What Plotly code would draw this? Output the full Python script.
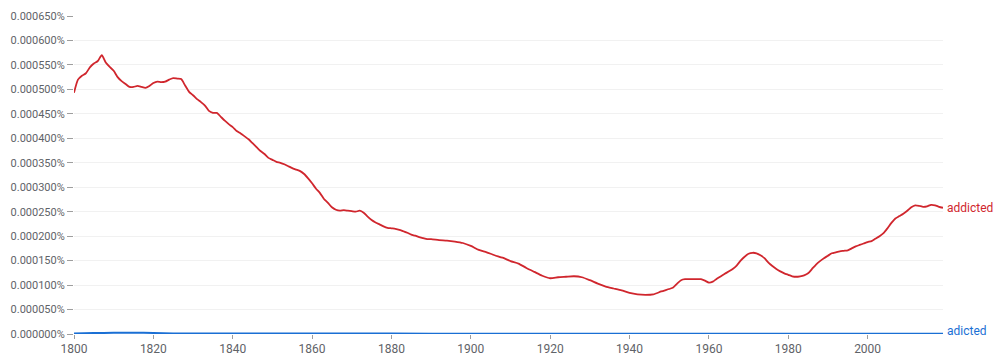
import plotly.graph_objects as go

years_addicted = [
    1800, 1801, 1802, 1803, 1804, 1805, 1806, 1807, 1808, 1809,
    1810, 1811, 1812, 1813, 1814, 1815, 1816, 1817, 1818, 1819,
    1820, 1821, 1822, 1823, 1824, 1825, 1826, 1827, 1828, 1829,
    1830, 1831, 1832, 1833, 1834, 1835, 1836, 1837, 1838, 1839,
    1840, 1841, 1842, 1843, 1844, 1845, 1846, 1847, 1848, 1849,
    1850, 1851, 1852, 1853, 1854, 1855, 1856, 1857, 1858, 1859,
    1860, 1861, 1862, 1863, 1864, 1865, 1866, 1867, 1868, 1869,
    1870, 1871, 1872, 1873, 1874, 1875, 1876, 1877, 1878, 1879,
    1880, 1881, 1882, 1883, 1884, 1885, 1886, 1887, 1888, 1889,
    1890, 1892, 1894, 1896, 1898, 1900, 1902, 1904, 1906, 1908,
    1910, 1912, 1914, 1916, 1918, 1920, 1922, 1924, 1926, 1928,
    1930, 1932, 1934, 1936, 1938, 1940, 1942, 1944, 1946, 1948,
    1950, 1951, 1952, 1953, 1954, 1956, 1958, 1959, 1960, 1961,
    1962, 1964, 1966, 1967, 1968, 1969, 1970, 1971, 1972, 1973,
    1974, 1975, 1976, 1977, 1978, 1979, 1980, 1981, 1982, 1983,
    1984, 1985, 1986, 1987, 1988, 1989, 1990, 1991, 1992, 1993,
    1994, 1995, 1996, 1997, 1998, 1999, 2000, 2001, 2002, 2003,
    2004, 2005, 2006, 2007, 2008, 2009, 2010, 2011, 2012, 2013,
    2014, 2015, 2016, 2017, 2018, 2019,
]
addicted = [
    0.000493, 0.000520, 0.000528, 0.000533, 0.000545, 0.000553, 0.000558, 0.000570, 0.000555, 0.000546,
    0.000538, 0.000525, 0.000517, 0.000511, 0.000505, 0.000505, 0.000507, 0.000505, 0.000503, 0.000507,
    0.000513, 0.000516, 0.000515, 0.000516, 0.000520, 0.000523, 0.000522, 0.000521, 0.000508, 0.000495,
    0.000488, 0.000480, 0.000474, 0.000467, 0.000456, 0.000452, 0.000452, 0.000444, 0.000436, 0.000429,
    0.000423, 0.000415, 0.000410, 0.000404, 0.000398, 0.000390, 0.000382, 0.000374, 0.000368, 0.000360,
    0.000356, 0.000352, 0.000350, 0.000347, 0.000343, 0.000339, 0.000336, 0.000333, 0.000327, 0.000318,
    0.000308, 0.000297, 0.000288, 0.000276, 0.000268, 0.000259, 0.000254, 0.000252, 0.000253, 0.000252,
    0.000251, 0.000250, 0.000252, 0.000248, 0.000240, 0.000233, 0.000228, 0.000224, 0.000220, 0.000217,
    0.000216, 0.000215, 0.000213, 0.000210, 0.000207, 0.000203, 0.000201, 0.000198, 0.000196, 0.000194,
    0.000194, 0.000192, 0.000191, 0.000189, 0.000186, 0.000180, 0.000172, 0.000167, 0.000161, 0.000156,
    0.000149, 0.000144, 0.000135, 0.000127, 0.000119, 0.000114, 0.000116, 0.000117, 0.000118, 0.000116,
    0.000110, 0.000103, 0.000097, 0.000093, 0.000089, 0.000084, 0.000081, 0.000080, 0.000081, 0.000087,
    0.000092, 0.000095, 0.000103, 0.000110, 0.000112, 0.000112, 0.000112, 0.000109, 0.000105, 0.000107,
    0.000113, 0.000123, 0.000133, 0.000140, 0.000150, 0.000158, 0.000164, 0.000166, 0.000165, 0.000161,
    0.000155, 0.000146, 0.000139, 0.000133, 0.000128, 0.000124, 0.000121, 0.000118, 0.000117, 0.000118,
    0.000120, 0.000124, 0.000133, 0.000142, 0.000149, 0.000155, 0.000160, 0.000165, 0.000167, 0.000169,
    0.000170, 0.000171, 0.000175, 0.000179, 0.000182, 0.000185, 0.000188, 0.000190, 0.000195, 0.000200,
    0.000206, 0.000216, 0.000227, 0.000236, 0.000241, 0.000246, 0.000252, 0.000259, 0.000263, 0.000262,
    0.000260, 0.000261, 0.000264, 0.000263, 0.000260, 0.000258,
]

years_adicted = [1800, 1805, 1810, 1815, 1820, 1825, 1830, 1840, 1850, 1860, 1880, 1900, 1950, 2000, 2019]
adicted = [0.0000008, 0.0000018, 0.0000025, 0.0000026, 0.0000022, 0.0000012, 0.0000010, 0.0000010,
           0.0000012, 0.0000009, 0.0000008, 0.0000006, 0.0000005, 0.0000004, 0.0000004]

x_ticks = [1800, 1820, 1840, 1860, 1880, 1900, 1920, 1940, 1960, 1980, 2000]
y_ticks = [0, 0.00005, 0.0001, 0.00015, 0.0002, 0.00025, 0.0003, 0.00035, 0.0004,
           0.00045, 0.0005, 0.00055, 0.0006, 0.00065]
y_tick_labels = [f"{v:.6f}%" for v in y_ticks]

RED = "#d0262d"
BLUE = "#1a6fd4"
GREY = "#5f6368"

fig = go.Figure()
fig.add_trace(go.Scatter(x=years_adicted, y=adicted, mode="lines", name="adicted",
                         line=dict(color=BLUE, width=2, shape="spline", smoothing=0.6),
                         cliponaxis=False))
fig.add_trace(go.Scatter(x=years_addicted, y=addicted, mode="lines", name="addicted",
                         line=dict(color=RED, width=1.8, shape="spline", smoothing=0.6)))

fig.add_annotation(x=years_addicted[-1], y=addicted[-1], text="addicted", showarrow=False,
                   xanchor="left", yanchor="middle", xshift=2,
                   font=dict(color=RED, size=12, family="Roboto"))
fig.add_annotation(x=years_adicted[-1], y=adicted[-1], text="adicted", showarrow=False,
                   xanchor="left", yanchor="middle", xshift=2, yshift=3,
                   font=dict(color=BLUE, size=12, family="Roboto"))

fig.update_layout(
    width=1000, height=360,
    margin=dict(l=74, r=57, t=16, b=26, autoexpand=False),
    paper_bgcolor="white", plot_bgcolor="white",
    showlegend=False,
    font=dict(family="Roboto", color=GREY, size=11),
    xaxis=dict(range=[1800, 2019], tickvals=x_ticks, showgrid=False, zeroline=False,
               ticks="outside", ticklen=4, tickcolor="#9e9e9e", showline=False,
               automargin=False, tickfont=dict(size=12, color=GREY)),
    yaxis=dict(range=[0, 0.00065], tickvals=y_ticks, ticktext=y_tick_labels,
               showgrid=True, gridcolor="#f1f1f1", gridwidth=1, zeroline=False,
               ticks="outside", ticklen=6, tickcolor="#9e9e9e", showline=False,
               automargin=False, tickfont=dict(size=11, color=GREY)),
)

fig.write_html("out.html", config={"displayModeBar": False},
               post_script="document.body.style.margin='0';document.body.style.overflow='hidden';")
